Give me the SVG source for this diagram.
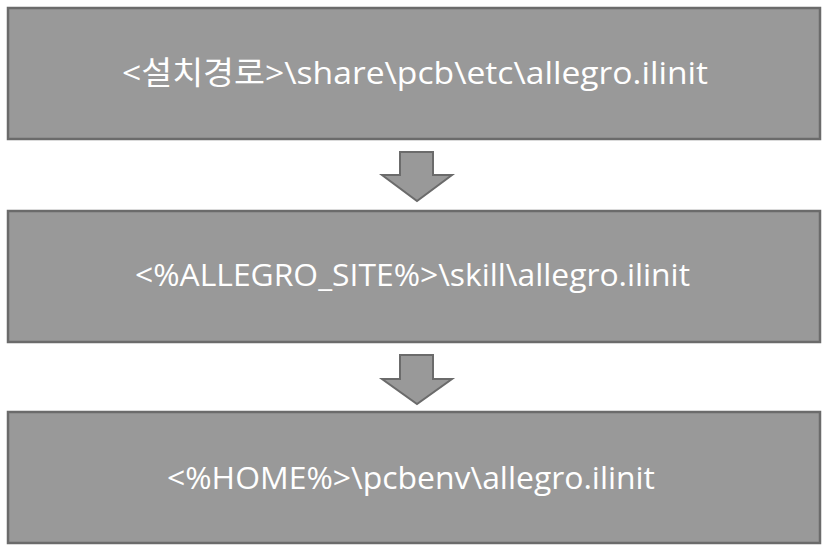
<svg xmlns="http://www.w3.org/2000/svg" width="829" height="550" viewBox="0 0 829 550">
<style>
.box{fill:#999999;stroke:#6b6b6b;stroke-width:2.5}
.arr{fill:#999999;stroke:#6b6b6b;stroke-width:2;stroke-linejoin:miter}
.lbl{fill:#ffffff;font-family:"Open Sans","Noto Sans CJK KR",sans-serif;font-size:31.5px;text-anchor:middle}
</style>
<rect width="829" height="550" fill="#ffffff"/>
<g id="node1">
<rect class="box" x="8" y="8" width="812" height="131"/>
<text class="lbl" x="415" y="84" textLength="586" lengthAdjust="spacingAndGlyphs">&lt;설치경로&gt;\share\pcb\etc\allegro.ilinit</text>
</g>
<g id="node2">
<rect class="box" x="8" y="211" width="812" height="131"/>
<text class="lbl" x="412.5" y="286" textLength="555" lengthAdjust="spacingAndGlyphs">&lt;%ALLEGRO_SITE%&gt;\skill\allegro.ilinit</text>
</g>
<g id="node3">
<rect class="box" x="8" y="412" width="812" height="131"/>
<text class="lbl" x="411" y="489" textLength="488" lengthAdjust="spacingAndGlyphs">&lt;%HOME%&gt;\pcbenv\allegro.ilinit</text>
</g>
<g id="connectors">
<polygon class="arr" points="400,152 433,152 433,175 452,175 417,201 382,175 400,175"/>
<polygon class="arr" points="400,355 433,355 433,379 452,379 417,404 382,379 400,379"/>
</g>
</svg>
